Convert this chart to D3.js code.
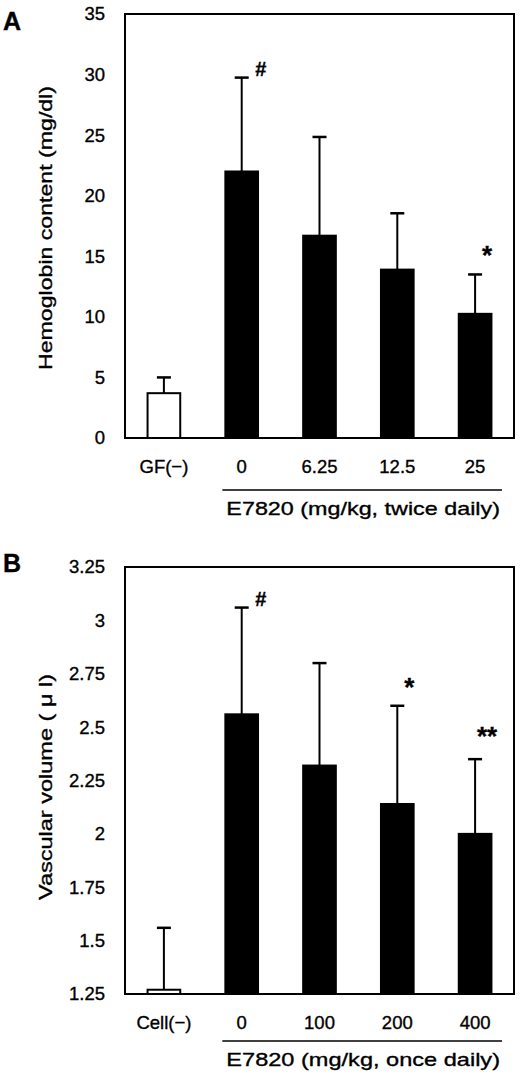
<!DOCTYPE html>
<html>
<head>
<meta charset="utf-8">
<script src="https://cdn.jsdelivr.net/npm/d3@7"></script>
<style>
  html, body { margin: 0; padding: 0; background: #fff; }
  svg { display: block; font-family: "Liberation Sans", Arial, sans-serif; }
  svg text { stroke: #000; stroke-width: 0.35px; }
</style>
</head>
<body>
<svg id="chart" width="520" height="1074"></svg>
<script>
"use strict";
// panel A: hemoglobin content
const groupsA = ["GF(\u2212)", "0", "6.25", "12.5", "25"];
const meansA = [3.7, 22.0, 16.7, 13.9, 10.25];
const sdA = [1.3, 7.75, 8.15, 4.65, 3.25];
const marksA = ["", "#", "", "", "*"];
const ticksA = [0, 5, 10, 15, 20, 25, 30, 35];

// panel B: vascular volume
const groupsB = ["Cell(\u2212)", "0", "100", "200", "400"];
const meansB = [1.27, 2.56, 2.32, 2.14, 2.0];
const sdB = [0.29, 0.5, 0.48, 0.46, 0.35];
const marksB = ["", "#", "", "*", "**"];
const ticksB = [1.25, 1.5, 1.75, 2, 2.25, 2.5, 2.75, 3, 3.25];

const svg = d3.select("#chart");

function drawPanel(cfg) {
    const g = svg.append("g");
    const x = d3.scaleBand()
        .domain(cfg.groups)
        .range([cfg.left, cfg.right])
        .paddingInner(0.58)
        .paddingOuter(0.29);
    const y = d3.scaleLinear()
        .domain([cfg.ticks[0], cfg.ticks[cfg.ticks.length - 1]])
        .range([cfg.bottom, cfg.top]);

    // y axis labels, no tick marks
    const yAxis = g.append("g")
        .attr("transform", `translate(${cfg.left},0)`)
        .call(d3.axisLeft(y).tickValues(cfg.ticks).tickSize(0).tickPadding(20)
            .tickFormat(d3.format("")));
    yAxis.select(".domain").remove();
    yAxis.selectAll("text")
        .attr("font-size", 18.5)
        .attr("font-family", "Liberation Sans, Arial, sans-serif")
        .attr("fill", "#000");

    // x axis labels
    const xAxis = g.append("g")
        .attr("transform", `translate(0,${cfg.bottom})`)
        .call(d3.axisBottom(x).tickSize(0).tickPadding(22));
    xAxis.select(".domain").remove();
    xAxis.selectAll("text")
        .attr("font-size", 18.5)
        .attr("font-family", "Liberation Sans, Arial, sans-serif")
        .attr("fill", "#000");

    const rows = cfg.groups.map((k, i) => ({ k, m: cfg.means[i], sd: cfg.sd[i], mark: cfg.marks[i], i }));
    const base = cfg.ticks[0];

    // error bars (upper only)
    const err = g.append("g").attr("stroke", "#000");
    err.selectAll("line.stem").data(rows).join("line")
        .attr("class", "stem")
        .attr("x1", d => x(d.k) + x.bandwidth() / 2)
        .attr("x2", d => x(d.k) + x.bandwidth() / 2)
        .attr("y1", d => y(d.m))
        .attr("y2", d => y(d.m + d.sd))
        .attr("stroke-width", 2);
    err.selectAll("line.cap").data(rows).join("line")
        .attr("class", "cap")
        .attr("x1", d => x(d.k) + x.bandwidth() / 2 - 7)
        .attr("x2", d => x(d.k) + x.bandwidth() / 2 + 7)
        .attr("y1", d => y(d.m + d.sd))
        .attr("y2", d => y(d.m + d.sd))
        .attr("stroke-width", 2.5);

    // bars
    g.selectAll("rect.bar").data(rows).join("rect")
        .attr("class", "bar")
        .attr("x", d => x(d.k))
        .attr("width", x.bandwidth())
        .attr("y", d => y(d.m))
        .attr("height", d => y(base) - y(d.m))
        .attr("fill", d => d.i == 0 ? "#fff" : "#000")
        .attr("stroke", "#000")
        .attr("stroke-width", 2);

    // frame
    g.append("rect")
        .attr("x", cfg.left)
        .attr("y", cfg.top)
        .attr("width", cfg.right - cfg.left)
        .attr("height", cfg.bottom - cfg.top)
        .attr("fill", "none")
        .attr("stroke", "#000")
        .attr("stroke-width", 2);

    // significance marks
    g.selectAll("text.mark").data(rows.filter(d => d.mark)).join("text")
        .attr("class", "mark")
        .attr("x", d => x(d.k) + x.bandwidth() / 2 + (d.mark == "#" ? 19 : 12))
        .attr("y", d => y(d.m + d.sd) + (d.mark == "#" ? -2 : d.mark == "**" ? -14 : -10))
        .attr("text-anchor", "middle")
        .attr("font-size", d => d.mark == "#" ? 20 : 26)
        .attr("font-weight", "bold")
        .text(d => d.mark);

    // treatment bracket
    const x0 = x(cfg.groups[1]) - 3;
    const x1 = cfg.right - 12;
    g.append("line")
        .attr("x1", x0).attr("x2", x1)
        .attr("y1", cfg.bottom + cfg.lineGap).attr("y2", cfg.bottom + cfg.lineGap)
        .attr("stroke", "#000").attr("stroke-width", 1.6);
    g.append("text")
        .attr("x", (x0 + x1) / 2 + 1)
        .attr("y", cfg.bottom + cfg.lineGap + 25)
        .attr("text-anchor", "middle")
        .attr("font-size", 19)
        .attr("textLength", x1 - x0 - 6)
        .attr("lengthAdjust", "spacingAndGlyphs")
        .text(cfg.treatment);

    // y title
    g.append("text")
        .attr("transform", `translate(${cfg.titleX},${cfg.titleY}) rotate(-90)`)
        .attr("text-anchor", "middle")
        .attr("font-size", 19)
        .attr("textLength", cfg.titleLen)
        .attr("lengthAdjust", "spacingAndGlyphs")
        .text(cfg.title);

    // panel letter
    g.append("text")
        .attr("x", 3)
        .attr("y", cfg.top + cfg.letterDy)
        .attr("font-size", 25)
        .attr("font-weight", "bold")
        .text(cfg.letter);
}

drawPanel({
    groups: groupsA, means: meansA, sd: sdA, marks: marksA, ticks: ticksA,
    left: 125, right: 514, top: 14, bottom: 438,
    lineGap: 52, treatment: "E7820 (mg/kg, twice daily)",
    title: "Hemoglobin content (mg/dl)", titleX: 52, titleY: 228, titleLen: 284,
    letter: "A", letterDy: 16
});

drawPanel({
    groups: groupsB, means: meansB, sd: sdB, marks: marksB, ticks: ticksB,
    left: 125, right: 514, top: 567, bottom: 994,
    lineGap: 47, treatment: "E7820 (mg/kg, once daily)",
    title: "Vascular volume ( \u03bc l)", titleX: 52, titleY: 787, titleLen: 226,
    letter: "B", letterDy: 5
});
</script>
</body>
</html>
